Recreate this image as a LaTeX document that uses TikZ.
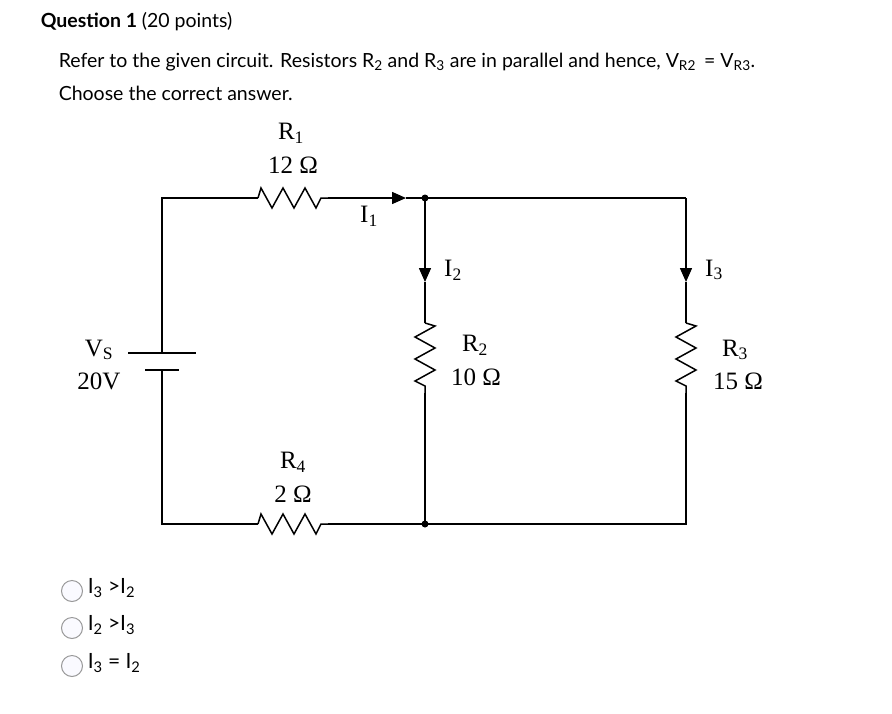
\documentclass[tikz,border=0pt]{standalone}
\usepackage{fontspec}
\setmainfont{Liberation Serif}
\newfontfamily\uifont{Lato}
\usetikzlibrary{arrows.meta,calc}
\begin{document}
\begin{tikzpicture}[x=1pt,y=-1pt,line width=1.5pt,
  lbl/.style={font=\fontsize{25}{25}\selectfont,inner sep=0pt},
  ui/.style={font=\uifont\fontsize{19.5}{19.5}\selectfont,anchor=west,inner sep=0pt},
  ans/.style={font=\uifont\fontsize{21}{21}\selectfont,anchor=west,inner sep=0pt},
  opt/.style={draw=gray!80,line width=1pt,fill=blue!2,circle,minimum size=21pt,inner sep=0pt},
  arr/.style={-{Triangle[length=14pt,width=12pt]}},
  dot/.style={circle,fill=black,inner sep=0pt,minimum size=7pt}]
\useasboundingbox (0,0) rectangle (892,713);
\node[ui,font=\uifont\fontsize{19.5}{19.5}\selectfont\bfseries] (q) at (40,22) {Question 1 \mdseries(20 points)};
\node[ui] (t1) at (58,62) {Refer to the given circuit. Resistors R\textsubscript{2} and R\textsubscript{3} are in parallel and hence, V\textsubscript{R2}\, = V\textsubscript{R3}.};
\node[ui] (t2) at (58,93) {Choose the correct answer.};
% coordinates
\coordinate (tl) at (162,198); \coordinate (bl) at (162,524);
\coordinate (tj) at (425,198); \coordinate (bj) at (425,524);
\coordinate (tr) at (686,198); \coordinate (br) at (686,524);
\coordinate (r1a) at (258,198); \coordinate (r1b) at (328,198);
\coordinate (r4a) at (258,524); \coordinate (r4b) at (328,524);
\coordinate (r2a) at (425,323); \coordinate (r2b) at (425,393);
\coordinate (r3a) at (686,323); \coordinate (r3b) at (686,393);
\coordinate (bp) at (162,353); \coordinate (bn) at (162,370);
\coordinate (i1) at (406,198); \coordinate (i2) at (425,282); \coordinate (i3) at (686,282);
% wires
\draw (bp) -- (tl) -- (r1a);
\draw[arr] (r1b) -- (i1); \draw (i1) -- (tr);
\draw[arr] (tr) -- (i3); \draw (i3) -- (r3a);
\draw[arr] (tj) -- (i2); \draw (i2) -- (r2a);
\draw (r3b) -- (br) -- (r4b);
\draw (r2b) -- (bj);
\draw (r4a) -- (bl) -- (bn);
% resistors
\draw[line join=miter] (r1a) -- ++(3,-10) -- ++(11,20) -- ++(11,-20) -- ++(11,20) -- ++(11,-20) -- ++(11,20) -- ++(5,-10) -- (r1b);
\draw[line join=miter] (r4a) -- ++(3,-10) -- ++(11,20) -- ++(11,-20) -- ++(11,20) -- ++(11,-20) -- ++(11,20) -- ++(5,-10) -- (r4b);
\draw[line join=miter] (r2a) -- ++(10,3) -- ++(-20,11) -- ++(20,11) -- ++(-20,11) -- ++(20,11) -- ++(-20,11) -- ++(10,5) -- (r2b);
\draw[line join=miter] (r3a) -- ++(10,3) -- ++(-20,11) -- ++(20,11) -- ++(-20,11) -- ++(20,11) -- ++(-20,11) -- ++(10,5) -- (r3b);
% battery
\draw ($(bp)+(-34,0)$) -- ($(bp)+(34,0)$);
\draw ($(bn)+(-17,0)$) -- ($(bn)+(17,0)$);
\node[dot] (d1) at (tj) {}; \node[dot] (d2) at (bj) {};
% labels
\node[lbl] (lr1) at (291,133) {R\textsubscript{1}};
\node[lbl] (vr1) at (293,165) {12 Ω};
\node[lbl] (li1) at (369,216) {I\textsubscript{1}};
\node[lbl] (li2) at (453,270) {I\textsubscript{2}};
\node[lbl] (li3) at (714,270) {I\textsubscript{3}};
\node[lbl] (lr2) at (475,345) {R\textsubscript{2}};
\node[lbl] (vr2) at (476,377) {10 Ω};
\node[lbl] (lr3) at (735,350) {R\textsubscript{3}};
\node[lbl] (vr3) at (738,381) {15 Ω};
\node[lbl] (lvs) at (99,350) {V\textsubscript{S}};
\node[lbl] (vvs) at (99,381) {20V};
\node[lbl] (lr4) at (293,462) {R\textsubscript{4}};
\node[lbl] (vr4) at (293,494) {2 Ω};
% options
\node[opt] (o1) at (72,591) {}; \node[ans] (a1) at (87,588) {I\textsubscript{3} >I\textsubscript{2}};
\node[opt] (o2) at (72,628) {}; \node[ans] (a2) at (87,625) {I\textsubscript{2} >I\textsubscript{3}};
\node[opt] (o3) at (72,666) {}; \node[ans] (a3) at (87,663) {I\textsubscript{3} = I\textsubscript{2}};
\end{tikzpicture}
\end{document}
